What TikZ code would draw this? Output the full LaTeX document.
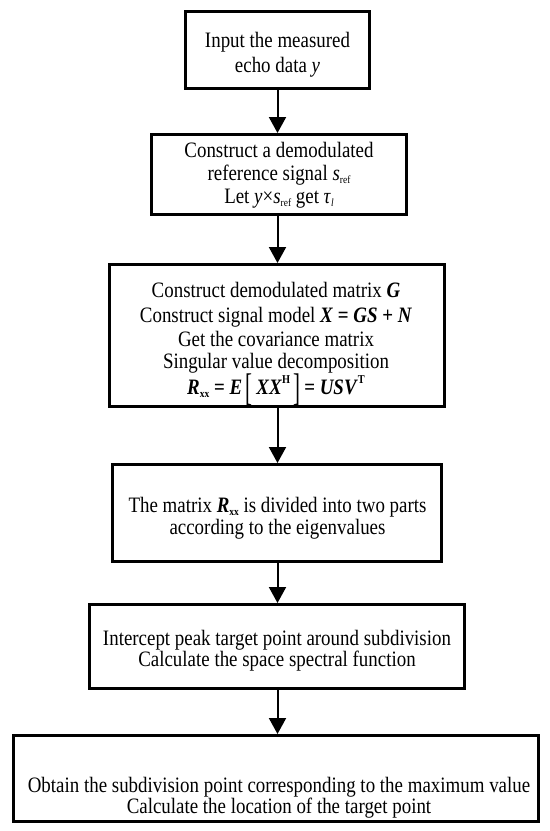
\documentclass[tikz,border=0pt]{standalone}
\usepackage{fontspec}
\setmainfont{Liberation Serif}[FakeStretch=0.86]
\usetikzlibrary{arrows.meta}
\newcommand{\lowsub}[1]{\raisebox{-0.3ex}{\fontsize{11bp}{11bp}\selectfont #1}}
\newcommand{\highsup}[1]{\raisebox{1.1ex}{\fontsize{12bp}{12bp}\selectfont #1}}
\newcommand{\bvec}[1]{\textbf{\textit{#1}}}
\newcommand{\tallbr}[1]{\raisebox{-0.28em}{\scalebox{1.1}[1.75]{#1}}}
\begin{document}
\begin{tikzpicture}[x=1bp,y=-1bp,
	stepbox/.style={draw, line width=3bp, inner sep=0pt},
	steptext/.style={align=center, anchor=north, inner sep=0pt, font=\fontsize{22bp}{20bp}\selectfont},
	flow/.style={-{Triangle[width=17bp,length=16bp]}, line width=2bp}]
	\useasboundingbox (0,0) rectangle (550,831);
	% Boxes
	\node[stepbox, minimum width=184bp, minimum height=77bp] (input) at (277.5,50) {};
	\node[stepbox, minimum width=255bp, minimum height=80bp] (demod) at (279,174.5) {};
	\node[stepbox, minimum width=335bp, minimum height=142bp] (model) at (277,335.5) {};
	\node[stepbox, minimum width=329bp, minimum height=97bp] (divide) at (277,513) {};
	\node[stepbox, minimum width=375bp, minimum height=84bp] (peak) at (277,646.5) {};
	\node[stepbox, minimum width=525bp, minimum height=86bp] (target) at (276,778.5) {};
	% Texts
	\node[steptext] (input-txt) at (277.5,32) {Input the measured\\[5bp] echo data \textit{y}};
	\node[steptext] (demod-txt) at (279,142) {Construct a demodulated\\[3bp]
		reference signal \textit{s}\lowsub{ref}\\[3bp]
		Let \textit{y}×\textit{s}\lowsub{ref} get \textit{τ}\lowsub{\textit{l}}};
	\node[steptext] (model-txt) at (276,282) {Construct demodulated matrix \bvec{G}\\[5bp]
		Construct signal model \bvec{X} \textbf{=} \bvec{GS} \textbf{+} \bvec{N}\\[3bp]
		Get the covariance matrix\\[2bp]
		Singular value decomposition\\[0bp]
		\bvec{R}\lowsub{\textbf{xx}} \textbf{=} \bvec{E}\,\tallbr{[}\,\bvec{XX}\highsup{\textbf{H}}\,\tallbr{]}\,\textbf{=} \bvec{USV}\highsup{\textbf{T}}};
	\node[steptext] (divide-txt) at (277.5,497) {The matrix \bvec{R}\lowsub{\textbf{xx}} is divided into two parts\\[2bp]
		according to the eigenvalues};
	\node[steptext] (peak-txt) at (277,630) {Intercept peak target point around subdivision\\
		Calculate the space spectral function};
	\node[steptext] (target-txt) at (279,777) {Obtain the subdivision point corresponding to the maximum value\\
		Calculate the location of the target point};
	% Arrows
	\draw[flow] (input.south) -- (input.south |- demod.north);
	\draw[flow] (demod.south -| input.south) -- (input.south |- model.north);
	\draw[flow] (model.south -| input.south) -- (input.south |- divide.north);
	\draw[flow] (divide.south -| input.south) -- (input.south |- peak.north);
	\draw[flow] (peak.south -| input.south) -- (input.south |- target.north);
\end{tikzpicture}
\end{document}
